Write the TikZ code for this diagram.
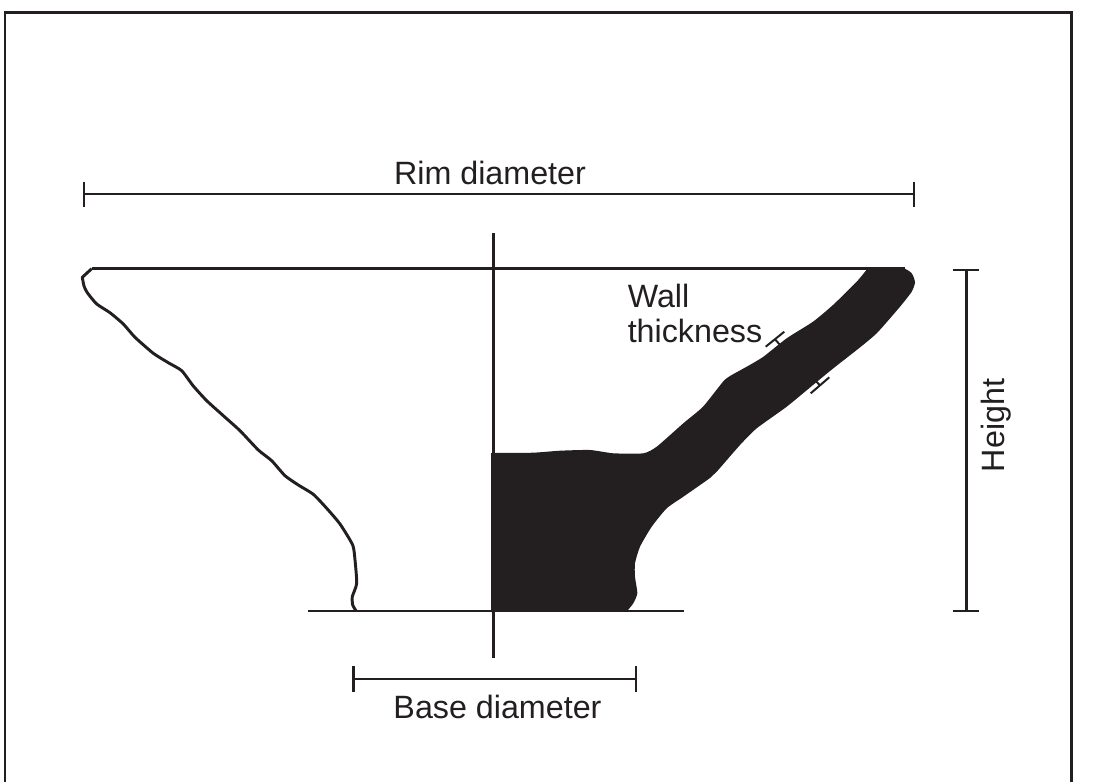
\documentclass[tikz,border=0pt]{standalone}
\usepackage{fontspec}
\setmainfont{Liberation Sans}
\definecolor{ink}{HTML}{231F20}
\tikzset{
  rule/.style={draw=ink,line width=2.2pt},
  thin/.style={draw=ink,line width=1.5pt},
  lab/.style={text=ink,font=\fontsize{24.2}{26.6}\selectfont,inner sep=0pt},
  soft/.style={smooth,tension=0.35}
}
\begin{document}
\begin{tikzpicture}[x=0.75pt,y=-0.75pt]
\useasboundingbox (0,0) rectangle (1100,782);
\fill[white] (0,0) rectangle (1100,782);
\draw[draw=ink,line width=2.1pt] (5,790) -- (5,12.5) -- (1071.7,12.5) -- (1071.7,790);
\coordinate (rl) at (84,194); \coordinate (rr) at (914,194);
\draw[rule] (rl) -- (rr);
\draw[rule] (84,181.5) -- (84,207);
\draw[rule] (914,181.5) -- (914,207);
\node[lab,anchor=base] (rim) at (490,184.5) {Rim diameter};
\coordinate (top) at (91.7,268.7); \coordinate (topr) at (905,268.7);
\draw[rule] (top) -- (topr);
\draw[rule] (308,611) -- (684,611);
\draw[rule] (493.5,233) -- (493.5,658);
\draw[rule,line join=round] (top) -- (82.3,277.3) -- plot[soft] coordinates {(82.3,277.3) (84,286) (87.3,292.7) (96.7,304) (110,312.7) (123.3,324) (135,337.3) (153.3,353.3) (168.3,362.7) (181.7,370.7) (193.3,386) (206.7,400.7) (223.3,415.7) (240,430.7) (258.3,450) (271.7,460.7) (285,475.7) (298.3,485) (313.3,494.3) (326.7,508.3) (340,524) (352.7,545) (355,560) (356.7,583.3) (352.3,596.7) (352.7,605) (356,610.7)};
\fill[ink] (491,453) -- plot[soft] coordinates {(491,453) (533,452.7) (560,450.7) (590,450) (613.3,453.3) (643.3,453.3) (656.7,446.7) (683.3,423.3) (703,406.7) (723,381.7) (730,376) (746.7,366.7) (763,357) (786.7,338.3) (813,321.7) (833,305) (856.7,281.7) (868,268)} -- plot[soft] coordinates {(868,268) (901.7,267.8) (911.7,273.3) (915,282.3) (911.7,291.7) (900,306.7) (876.7,333.3) (856.7,350) (833.3,368.3) (813,385) (786.7,406.7) (756.7,428.3) (740,445) (716.7,471.7) (710,478) (683.3,496.7) (666.7,508.3) (651.7,526.7) (640,546.7) (635,563.3) (635,576.7) (637.3,593.3) (633.3,603.3) (626.7,611.5)} -- (491,612) -- cycle;
\draw[thin] (765.7,346.7) -- (784.3,331.7);
\draw[thin] (775,339.3) -- (781,346);
\draw[thin] (810.7,393.3) -- (829.3,377.3);
\draw[thin] (820,385.5) -- (815,380);
\node[lab,anchor=base west] (wall) at (627.5,307) {Wall};
\node[lab,anchor=base west] (thick) at (627.5,342.7) {thickness};
\draw[rule] (966.7,270) -- (966.7,611);
\draw[rule] (953,270) -- (979,270);
\draw[rule] (953,611) -- (979,611);
\node[lab,rotate=90,anchor=base] (height) at (1004,425.5) {Height};
\draw[rule] (353.5,679) -- (636,679);
\draw[rule] (353.5,666) -- (353.5,691.5);
\draw[rule] (636,666) -- (636,691.5);
\node[lab,anchor=base] (base) at (497.5,718) {Base diameter};
\end{tikzpicture}
\end{document}
